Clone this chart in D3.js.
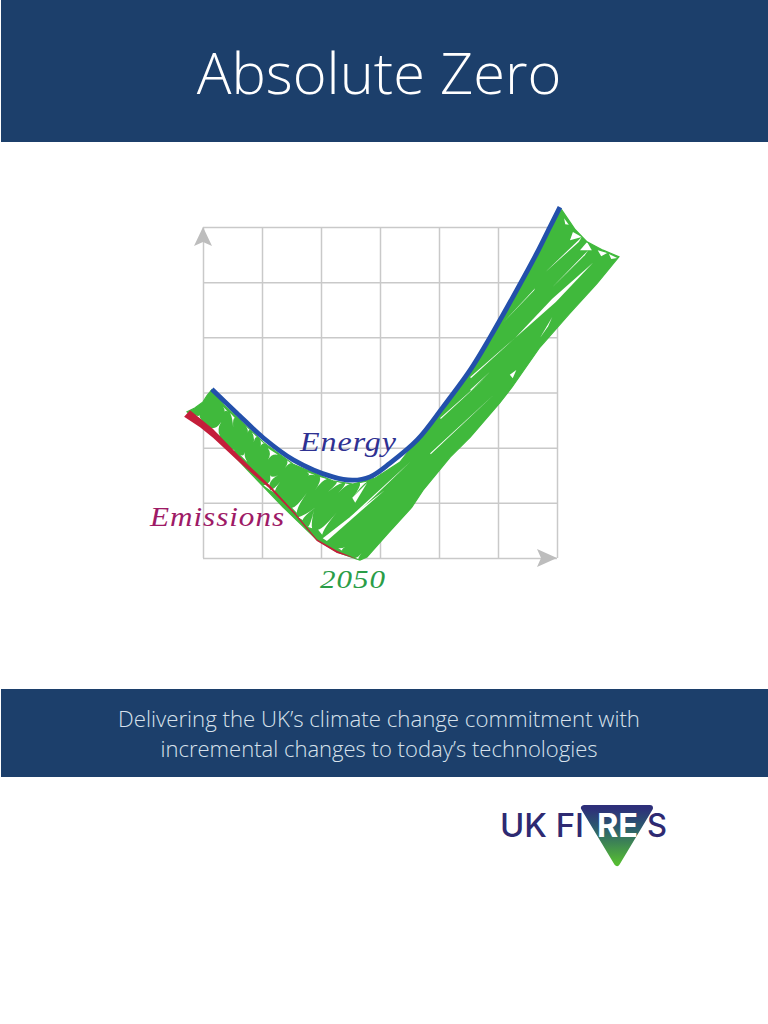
<!DOCTYPE html>
<html>
<head>
<meta charset="utf-8">
<script src="https://cdn.jsdelivr.net/npm/d3@7"></script>
<style>
  html, body { margin: 0; padding: 0; background: #fff; }
  svg { display: block; }
  .grid line { stroke: #c9c9c9; stroke-width: 1.5; }
  .grid path { display: none; }
</style>
</head>
<body>
<div id="chart"></div>
<script>
// grid squares
var gridX = [0, 1, 2, 3, 4, 5, 6];
var gridY = [0, 1, 2, 3, 4, 5, 6];

var energy = [[0.15,3.06],[0.57,2.63],[1.02,2.18],[1.53,1.78],[2.20,1.47],[2.54,1.41],[2.83,1.47],[3.17,1.72],
  [3.63,2.14],[4.07,2.74],[4.53,3.41],[4.86,3.99],[5.32,4.86],[5.66,5.53],[5.88,6.00],[6.05,6.36]];

// emissions is a pen stroke that gets thinner, so it has two edges
var emissionsUpper = [[-0.22,2.68],[0.17,2.34],[0.63,1.83],[1.14,1.31],[1.56,0.82],[1.93,0.34],[2.27,0.13],[2.61,-0.02]];
var emissionsLower = [[2.61,-0.02],[2.27,0.09],[1.93,0.31],[1.56,0.78],[1.14,1.25],[0.63,1.72],[0.17,2.18],[-0.05,2.37],[-0.32,2.56]];

// the scribbled green shape
var scribble = [[-0.27,2.65],[-0.14,2.72],[0,2.83],[0.07,2.95],[0.15,3.05],[0.36,2.77],[0.63,2.50],[1.02,2.10],
  [1.53,1.70],[2.20,1.40],[2.54,1.34],[2.92,1.45],[3.34,1.74],[3.63,2.14],[4.07,2.74],[4.53,3.41],[4.86,3.99],
  [5.32,4.86],[5.66,5.53],[5.88,6.00],[6.08,6.31],[6.31,5.95],[6.51,5.73],[6.78,5.58],[7.05,5.46],[6.68,4.98],
  [6.22,4.44],[5.71,3.82],[5.24,3.10],[5.03,2.81],[4.53,2.19],[4.19,1.83],[3.73,1.23],[3.54,0.92],[3.14,0.45],
  [2.78,0.02],[2.66,-0.04],[2.61,-0.02],[2.27,0.11],[1.93,0.33],[1.36,0.92],[0.75,1.60],[0.17,2.27]];

// gaps left by the pen: two base points and a tip
var topNotches = [
  [[0.34,2.74],[0.42,2.65],[0.37,2.65]], [[0.46,2.63],[0.54,2.54],[0.51,2.37]], [[0.71,2.41],[0.83,2.32],[0.76,2.27]],
  [[0.83,2.28],[0.93,2.19],[0.86,2.10]], [[0.95,2.18],[1.07,2.07],[0.97,2.01]], [[1.10,1.99],[1.27,1.87],[1.10,1.78]],
  [[1.42,1.81],[1.53,1.72],[1.39,1.63]], [[1.76,1.56],[1.90,1.50],[1.78,1.49]], [[1.98,1.47],[2.10,1.43],[1.90,1.23]],
  [[2.27,1.38],[2.36,1.36],[2.12,1.20]], [[2.41,1.36],[2.49,1.34],[2.29,1.18]], [[2.66,1.36],[2.78,1.38],[2.54,1.09]],
  [[1.14,1.50],[1.14,1.36],[1.27,1.50]]
];
var bottomNotches = [
  [[-0.14,2.59],[-0.02,2.50],[-0.05,2.59]], [[0.12,2.36],[0.29,2.21],[0.31,2.47]], [[0.42,2.01],[0.56,1.87],[0.54,1.96]],
  [[0.63,1.87],[0.75,1.74],[0.71,1.92]], [[1.02,1.32],[1.14,1.23],[1.17,1.45]], [[1.14,1.23],[1.22,1.18],[1.31,1.38]],
  [[1.51,0.91],[1.59,0.82],[1.76,1.18]], [[1.61,0.74],[1.69,0.69],[1.90,0.91]], [[1.78,0.56],[1.85,0.54],[1.88,0.87]],
  [[1.95,0.51],[2.02,0.42],[2.27,0.83]], [[2.29,0.18],[2.36,0.13],[2.41,0.20]], [[2.58,0],[2.63,-0.04],[2.69,0.09]]
];
var streaks = [
  [[2.03,0.36],[2.10,0.31],[3.08,1.23]], [[2.53,1.09],[2.58,1.00],[2.78,1.36]], [[2.49,0.74],[2.51,0.71],[3.51,1.74]],
  [[3.85,1.90],[3.86,1.88],[4.92,2.95]], [[4.02,2.54],[4.03,2.52],[4.75,3.23]],
  [[5.29,3.99],[5.92,4.70],[6.61,5.35],[5.98,4.64]], [[4.53,3.28],[4.54,3.26],[5.29,3.99]], [[4.53,3.05],[4.54,3.03],[4.86,3.37]],
  [[5.92,4.91],[6.53,5.58],[6.47,5.49]], [[5.80,5.18],[6.42,5.82],[6.37,5.73]], [[5.08,4.26],[5.63,4.89],[5.61,4.85]],
  [[5.20,3.32],[5.31,3.41],[5.25,3.26]], [[5.71,3.99],[5.92,4.37],[5.85,4.20]],
  [[6.27,5.91],[6.42,5.82],[6.22,5.76]], [[6.51,5.73],[6.59,5.58],[6.39,5.58]], [[6.69,5.58],[6.85,5.53],[6.75,5.47]],
  [[6.88,5.51],[7.02,5.44],[6.92,5.42]], [[6.12,6.16],[6.20,6.04],[6.14,6.05]]
];

var title = "Absolute Zero";
var subtitle = ["Delivering the UK\u2019s climate change commitment with", "incremental changes to today\u2019s technologies"];
var navy = "#1c3f6b";

var svg = d3.select("#chart").append("svg").attr("width", 768).attr("height", 1024);

// bands
svg.append("rect").attr("x", 1).attr("y", 0).attr("width", 767).attr("height", 142).attr("fill", navy);
svg.append("rect").attr("x", 1).attr("y", 689).attr("width", 767).attr("height", 88).attr("fill", navy);

svg.append("text").text(title)
  .attr("x", 379).attr("y", 93.5).attr("text-anchor", "middle")
  .attr("font-family", "Open Sans").attr("font-weight", 300).attr("font-size", 57.8).attr("fill", "#fff");

svg.selectAll(".sub").data(subtitle).enter().append("text")
  .attr("class", "sub").text(function(d){ return d })
  .attr("x", 379).attr("y", function(d, i){ return 726.5 + i * 30 })
  .attr("text-anchor", "middle")
  .attr("textLength", function(d, i){ return i ? 437 : 522 })
  .attr("lengthAdjust", "spacingAndGlyphs")
  .attr("font-family", "Open Sans").attr("font-weight", 300).attr("font-size", 22.25).attr("fill", "#d8e2ec");

// chart
var x = d3.scaleLinear().domain([0, 6]).range([203, 557]);
var y = d3.scaleLinear().domain([0, 6]).range([558, 227]);

svg.append("g").attr("class", "grid").attr("transform", "translate(0,558)")
  .call(d3.axisBottom(x).tickValues(gridX).tickSize(-331).tickFormat(""));
svg.append("g").attr("class", "grid").attr("transform", "translate(203,0)")
  .call(d3.axisLeft(y).tickValues(gridY).tickSize(-354).tickFormat(""));

svg.append("path").attr("fill", "#bdbdbd")
  .attr("d", "M" + x(0) + "," + y(6) + "l9,19l-9,-4l-9,4z");
svg.append("path").attr("fill", "#bdbdbd")
  .attr("d", "M" + x(6) + "," + y(0) + "l-20,9l4,-9l-4,-9z");

var poly = d3.line().x(function(d){ return x(d[0]) }).y(function(d){ return y(d[1]) });
var smooth = d3.line().x(function(d){ return x(d[0]) }).y(function(d){ return y(d[1]) }).curve(d3.curveCatmullRom);
var green = "#40b93c";

svg.append("path").attr("d", poly(scribble) + "Z").attr("fill", green);

// concave spike between the strokes
function spike(d) {
  var p = d3.path();
  var bx = (x(d[0][0]) + x(d[1][0])) / 2, by = (y(d[0][1]) + y(d[1][1])) / 2;
  var cx = bx + (x(d[2][0]) - bx) * 0.2, cy = by + (y(d[2][1]) - by) * 0.2;
  p.moveTo(x(d[0][0]), y(d[0][1]));
  p.quadraticCurveTo(cx, cy, x(d[2][0]), y(d[2][1]));
  p.quadraticCurveTo(cx, cy, x(d[1][0]), y(d[1][1]));
  p.closePath();
  return p.toString();
}

svg.selectAll(".notch").data(topNotches.concat(bottomNotches)).enter().append("path")
  .attr("class", "notch").attr("fill", "#fff").attr("d", spike);
svg.selectAll(".streak").data(streaks).enter().append("path")
  .attr("class", "streak").attr("fill", "#fff")
  .attr("d", function(d){ return poly(d) + "Z" });

svg.append("path").attr("d", poly(scribble) + "Z").attr("fill", "none").attr("stroke", green).attr("stroke-width", 1.2);

svg.append("path").attr("d", poly(emissionsUpper.concat(emissionsLower)) + "Z").attr("fill", "#c41e3a");

svg.append("path").attr("d", smooth(energy))
  .attr("fill", "none").attr("stroke", "#2350ab").attr("stroke-width", 4.8);

// hand written labels
function label(txt, px, py, size, len, col) {
  svg.append("text").text(txt).attr("x", px).attr("y", py)
    .attr("font-family", "Liberation Serif").attr("font-style", "italic")
    .attr("font-size", size).attr("letter-spacing", 0.8)
    .attr("textLength", len).attr("lengthAdjust", "spacingAndGlyphs").attr("fill", col);
}
label("Energy", 300, 451, 27, 97, "#2e3192");
label("Emissions", 150, 526, 27, 135, "#9e1a66");
label("2050", 320, 588, 25, 66, "#2a9d47");

// logo
var logoGrad = svg.append("defs").append("linearGradient").attr("id", "logoGrad")
  .attr("x1", 0).attr("y1", 0).attr("x2", 0).attr("y2", 1);
logoGrad.append("stop").attr("offset", "0%").attr("stop-color", "#2e2f7a");
logoGrad.append("stop").attr("offset", "35%").attr("stop-color", "#2b5a6e");
logoGrad.append("stop").attr("offset", "100%").attr("stop-color", "#55bb33");

function logoText(txt, px, len, col, weight) {
  svg.append("text").text(txt).attr("x", px).attr("y", 837)
    .attr("font-family", "Inter").attr("font-weight", weight).attr("font-size", 32)
    .attr("textLength", len).attr("lengthAdjust", "spacingAndGlyphs").attr("fill", col);
}
logoText("UK FI", 500, 84, "#2e2a72", 500);
logoText("S", 647, 20, "#2e2a72", 500);
svg.append("path").attr("fill", "url(#logoGrad)").attr("stroke", "url(#logoGrad)").attr("stroke-width", 6).attr("stroke-linejoin", "round")
  .attr("d", "M584,808L650,808L617,863Z");
logoText("RE", 597, 41, "#fff", 700);
</script>
</body>
</html>
